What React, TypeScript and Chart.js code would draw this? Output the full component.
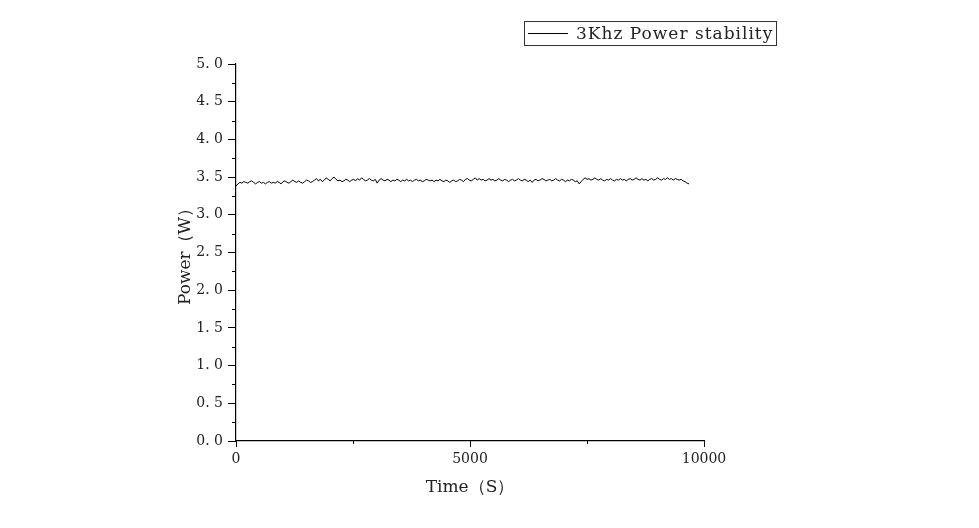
import React, { useEffect, useRef } from "react";
import { Chart, registerables } from "chart.js";

Chart.register(...registerables);

const SERIES_LABEL = "3Khz Power stability";
const X_TITLE = "Time（S）";
const Y_TITLE = "Power（W）";

const END_TIME = 9680;
const POWER: number[] = [
  3.38, 3.41, 3.43, 3.42, 3.44, 3.43, 3.42, 3.44, 3.45, 3.43, 3.41, 3.43, 3.44, 3.42, 3.43, 3.41, 3.43, 3.44, 3.42, 3.43,
  3.42, 3.44, 3.43, 3.41, 3.44, 3.45, 3.43, 3.42, 3.44, 3.46, 3.44, 3.43, 3.45, 3.43, 3.42, 3.44, 3.46, 3.45, 3.43, 3.44,
  3.46, 3.48, 3.45, 3.47, 3.44, 3.46, 3.49, 3.47, 3.45, 3.48, 3.50, 3.47, 3.45, 3.46, 3.44, 3.45, 3.47, 3.46, 3.44, 3.46,
  3.47, 3.45, 3.48, 3.46, 3.49, 3.47, 3.45, 3.46, 3.48, 3.46, 3.45, 3.47, 3.42, 3.46, 3.48, 3.46, 3.45, 3.47, 3.46, 3.44,
  3.46, 3.45, 3.47, 3.46, 3.44, 3.46, 3.45, 3.47, 3.45, 3.46, 3.44, 3.46, 3.47, 3.45, 3.46, 3.44, 3.45, 3.47, 3.46, 3.45,
  3.46, 3.44, 3.46, 3.45, 3.47, 3.45, 3.44, 3.46, 3.45, 3.43, 3.45, 3.46, 3.44, 3.45, 3.47, 3.46, 3.44, 3.47, 3.48, 3.46,
  3.45, 3.47, 3.49, 3.46, 3.48, 3.46, 3.47, 3.45, 3.46, 3.48, 3.46, 3.47, 3.45, 3.46, 3.48, 3.46, 3.45, 3.47, 3.46, 3.44,
  3.46, 3.47, 3.45, 3.46, 3.48, 3.46, 3.45, 3.47, 3.46, 3.44, 3.46, 3.43, 3.46, 3.47, 3.45, 3.46, 3.48, 3.47, 3.45, 3.46,
  3.47, 3.45, 3.46, 3.48, 3.46, 3.45, 3.47, 3.46, 3.44, 3.46, 3.45, 3.47, 3.46, 3.44, 3.45, 3.41, 3.44, 3.47, 3.49, 3.47,
  3.48, 3.46, 3.47, 3.49, 3.47, 3.46, 3.48, 3.46, 3.45, 3.47, 3.46, 3.48, 3.46, 3.45, 3.47, 3.46, 3.48, 3.46, 3.47, 3.45,
  3.47, 3.48, 3.46, 3.47, 3.49, 3.47, 3.46, 3.48, 3.46, 3.47, 3.45, 3.47, 3.48, 3.46, 3.47, 3.49, 3.47, 3.46, 3.48, 3.47,
  3.49, 3.47, 3.48, 3.46, 3.48, 3.47, 3.46, 3.47, 3.45, 3.44, 3.42, 3.41,
];
const TIME: number[] = POWER.map((_, i) => (i * END_TIME) / (POWER.length - 1));

const X_MAJOR_TICKS = [0, 5000, 10000];
const X_MINOR_TICKS = [2500, 7500];
const Y_MAJOR_TICKS = [0, 0.5, 1, 1.5, 2, 2.5, 3, 3.5, 4, 4.5, 5];
const Y_MINOR_TICKS = [0.25, 0.75, 1.25, 1.75, 2.25, 2.75, 3.25, 3.75, 4.25, 4.75];

const TEXT = "#222";
const FONT = "'DejaVu Serif', 'Liberation Serif', serif";

const extrasPlugin = {
  id: "extras",
  afterDraw(chart: any) {
    const ctx = chart.ctx;
    const xs = chart.scales.x;
    const ys = chart.scales.y;
    const area = chart.chartArea;
    ctx.save();
    ctx.strokeStyle = "#000";
    ctx.lineWidth = 1;
    ctx.beginPath();
    Y_MINOR_TICKS.forEach((v) => {
      const py = Math.round(ys.getPixelForValue(v)) + 0.5;
      ctx.moveTo(area.left - 4, py);
      ctx.lineTo(area.left, py);
    });
    X_MINOR_TICKS.forEach((v) => {
      const px = Math.round(xs.getPixelForValue(v)) + 0.5;
      ctx.moveTo(px, area.bottom);
      ctx.lineTo(px, area.bottom + 3);
    });
    ctx.stroke();

    // legend box
    const bx = 524.5, by = 21.5, bw = 252, bh = 24;
    ctx.strokeStyle = "#333";
    ctx.lineWidth = 1;
    ctx.strokeRect(bx, by, bw, bh);
    ctx.strokeStyle = "#000";
    ctx.beginPath();
    ctx.moveTo(528, by + bh / 2);
    ctx.lineTo(568, by + bh / 2);
    ctx.stroke();
    ctx.fillStyle = TEXT;
    ctx.font = `17px ${FONT}`;
    try {
      (ctx as any).letterSpacing = "1px";
    } catch (e) {}
    ctx.textBaseline = "middle";
    ctx.textAlign = "left";
    ctx.fillText(chart.data.datasets[0].label, 576, by + bh / 2 + 1);
    ctx.restore();
  },
};

export default function App() {
  const ref = useRef<HTMLCanvasElement | null>(null);
  useEffect(() => {
    if (!ref.current) return;
    const chart = new Chart(ref.current, {
      type: "line",
      data: {
        datasets: [
          {
            label: SERIES_LABEL,
            data: TIME.map((t, i) => ({ x: t, y: POWER[i] })),
            borderColor: "#000",
            borderWidth: 1,
            pointRadius: 0,
            tension: 0,
            fill: false,
          },
        ],
      },
      options: {
        animation: false,
        responsive: false,
        maintainAspectRatio: false,
        layout: { padding: { left: 175, right: 275, top: 64, bottom: 30 } },
        plugins: { legend: { display: false }, tooltip: { enabled: false } },
        scales: {
          x: {
            type: "linear",
            min: 0,
            max: 10000,
            afterBuildTicks: (s: any) => {
              s.ticks = X_MAJOR_TICKS.map((v) => ({ value: v }));
            },
            afterFit: (s: any) => {
              s.height = 57;
            },
            grid: { drawOnChartArea: false, tickLength: 6, color: "#000", tickWidth: 1 },
            border: { display: true, color: "#000", width: 1.2 },
            ticks: {
              color: TEXT,
              font: { family: FONT, size: 14 },
              padding: 4,
              maxRotation: 0,
              autoSkip: false,
              callback: (v: any) => String(v),
            },
            title: {
              display: true,
              text: X_TITLE,
              color: TEXT,
              font: { family: FONT, size: 17 },
              padding: 0,
            },
          },
          y: {
            type: "linear",
            min: 0,
            max: 5,
            afterBuildTicks: (s: any) => {
              s.ticks = Y_MAJOR_TICKS.map((v) => ({ value: v }));
            },
            afterFit: (s: any) => {
              s.width = 61;
            },
            grid: { drawOnChartArea: false, tickLength: 8, color: "#000", tickWidth: 1 },
            border: { display: true, color: "#000", width: 1.2 },
            ticks: {
              color: TEXT,
              font: { family: FONT, size: 14 },
              padding: 5,
              autoSkip: false,
              callback: (v: any) => Number(v).toFixed(1).replace(".", ". "),
            },
            title: {
              display: true,
              text: Y_TITLE,
              color: TEXT,
              font: { family: FONT, size: 17 },
              padding: 0,
            },
          },
        },
      },
      plugins: [extrasPlugin],
    } as any);
    return () => chart.destroy();
  }, []);
  return (
    <div style={{ position: "fixed", left: 0, top: 0, width: 979, height: 528, background: "#fff" }}>
      <canvas ref={ref} width={979} height={528} style={{ width: 979, height: 528, display: "block" }} />
    </div>
  );
}
